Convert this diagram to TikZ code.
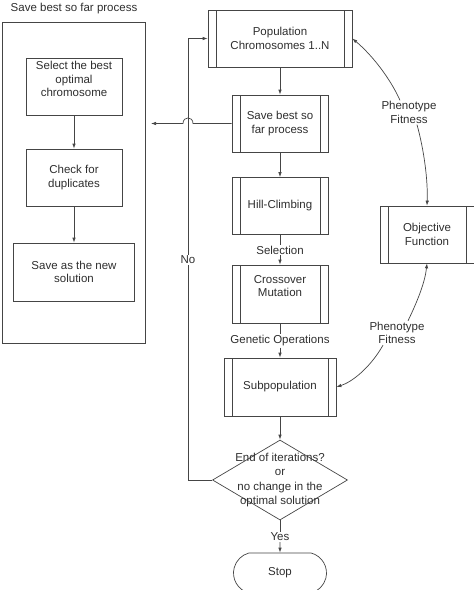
\documentclass[tikz,border=0pt]{standalone}
\usepackage{fontspec}
\setmainfont{Liberation Sans}
\usetikzlibrary{arrows.meta,shapes.geometric,shapes.misc}
\definecolor{ln}{HTML}{454545}
\definecolor{tx}{HTML}{2E2E2E}
\begin{document}
\begin{tikzpicture}[x=1pt, y=-1pt,
  >={Latex[length=5pt,width=3.5pt]},
  every node/.style={font=\fontsize{11.5}{13.5}\selectfont, text=tx, align=center, inner sep=1pt},
  box/.style={draw=ln, line width=0.7pt, minimum width=96pt, minimum height=57pt},
  procbox/.style={box, path picture={
    \draw[ln, line width=0.7pt] ([xshift=8pt]path picture bounding box.north west) -- ([xshift=8pt]path picture bounding box.south west);
    \draw[ln, line width=0.7pt] ([xshift=-8pt]path picture bounding box.north east) -- ([xshift=-8pt]path picture bounding box.south east);}},
  conn/.style={draw=ln, line width=0.7pt}]
\useasboundingbox (0,0) rectangle (474,590);

% save best so far process, detail
\node (ttl) at (74,9) {Save best so far process};
\node[draw=ln, line width=0.7pt, minimum width=143pt, minimum height=321pt, inner sep=0pt] (sbox) at (73.5,182.5) {};
\node[box, text depth=16pt] (sel) at (74,87) {Select the best\\optimal\\chromosome};
\node[box] (chk) at (74,177.5) {Check for\\duplicates};
\node[box, minimum width=121pt, minimum height=58pt] (new) at (74,272) {Save as the new\\solution};
\draw[conn,->] (sel) -- (chk);
\draw[conn,->] (chk) -- (new);

% main loop
\node[procbox, minimum width=144pt] (pop) at (280,38.5) {Population\\Chromosomes 1..N};
\node[procbox] (best) at (280,123.5) {Save best so\\far process};
\node[procbox] (hill) at (280,206) {Hill-Climbing};
\node (selt) at (280,250) {Selection};
\node[procbox, minimum height=58pt, text depth=16pt] (cross) at (280,294) {Crossover\\Mutation};
\node (gen) at (280,341) {Genetic Operations};
\node[procbox, minimum width=112pt, minimum height=58pt] (sub) at (280,387) {Subpopulation};
\node[draw=ln, line width=0.7pt, diamond, minimum width=135pt, minimum height=80pt, inner sep=0pt] (dec) at (280,480) {};
\node[font=\fontsize{11.5}{14.3}\selectfont] (dect) at (280,480) {End of iterations?\\or\\no change in the\\optimal solution};
\node (yes) at (280,537) {Yes};
\node[draw=ln, line width=0.7pt, rounded rectangle, rounded rectangle arc length=150, minimum width=95pt, minimum height=40pt] (stop) at (280,573) {Stop};

\node[procbox, minimum width=94pt] (obj) at (427,234.5) {Objective\\Function};
\node (fit1) at (409,112.5) {Phenotype\\Fitness};
\node (fit2) at (397,333) {Phenotype\\Fitness};
\node (no) at (188,260) {No};
\coordinate (hopR) at (193,123.5);
\coordinate (hopL) at (183,123.5);
\coordinate (sin) at (151,123.5);

\draw[conn,->] (pop) -- (best);
\draw[conn,->] (best) -- (hill);
\draw[conn] (hill) -- (selt);
\draw[conn,->] (selt) -- (cross);
\draw[conn] (cross) -- (gen);
\draw[conn,->] (gen) -- (sub);
\draw[conn,->] (sub) -- (dec);
\draw[conn] (dec) -- (yes);
\draw[conn,->] (yes) -- (stop);
\draw[conn] (dec.west) -| (no);
\draw[conn,->] (no) |- (pop.west);
\draw[conn,->] (best.west) -- (hopR) .. controls (193,116) and (183,116) .. (hopL) -- (sin);

% fitness loop
\draw[conn,->] ([xshift=-9pt]fit1.north) .. controls (390,78) and (372,55) .. (pop.east);
\draw[conn,->] ([xshift=8pt]fit1.south) .. controls (424,150) and (428,180) .. (obj.north);
\draw[conn,->] ([xshift=11pt]fit2.north) .. controls (418,300) and (425,282) .. (obj.south);
\draw[conn,->] ([xshift=-14pt]fit2.south) .. controls (370,368) and (352,382) .. (sub.east);
\end{tikzpicture}
\end{document}
